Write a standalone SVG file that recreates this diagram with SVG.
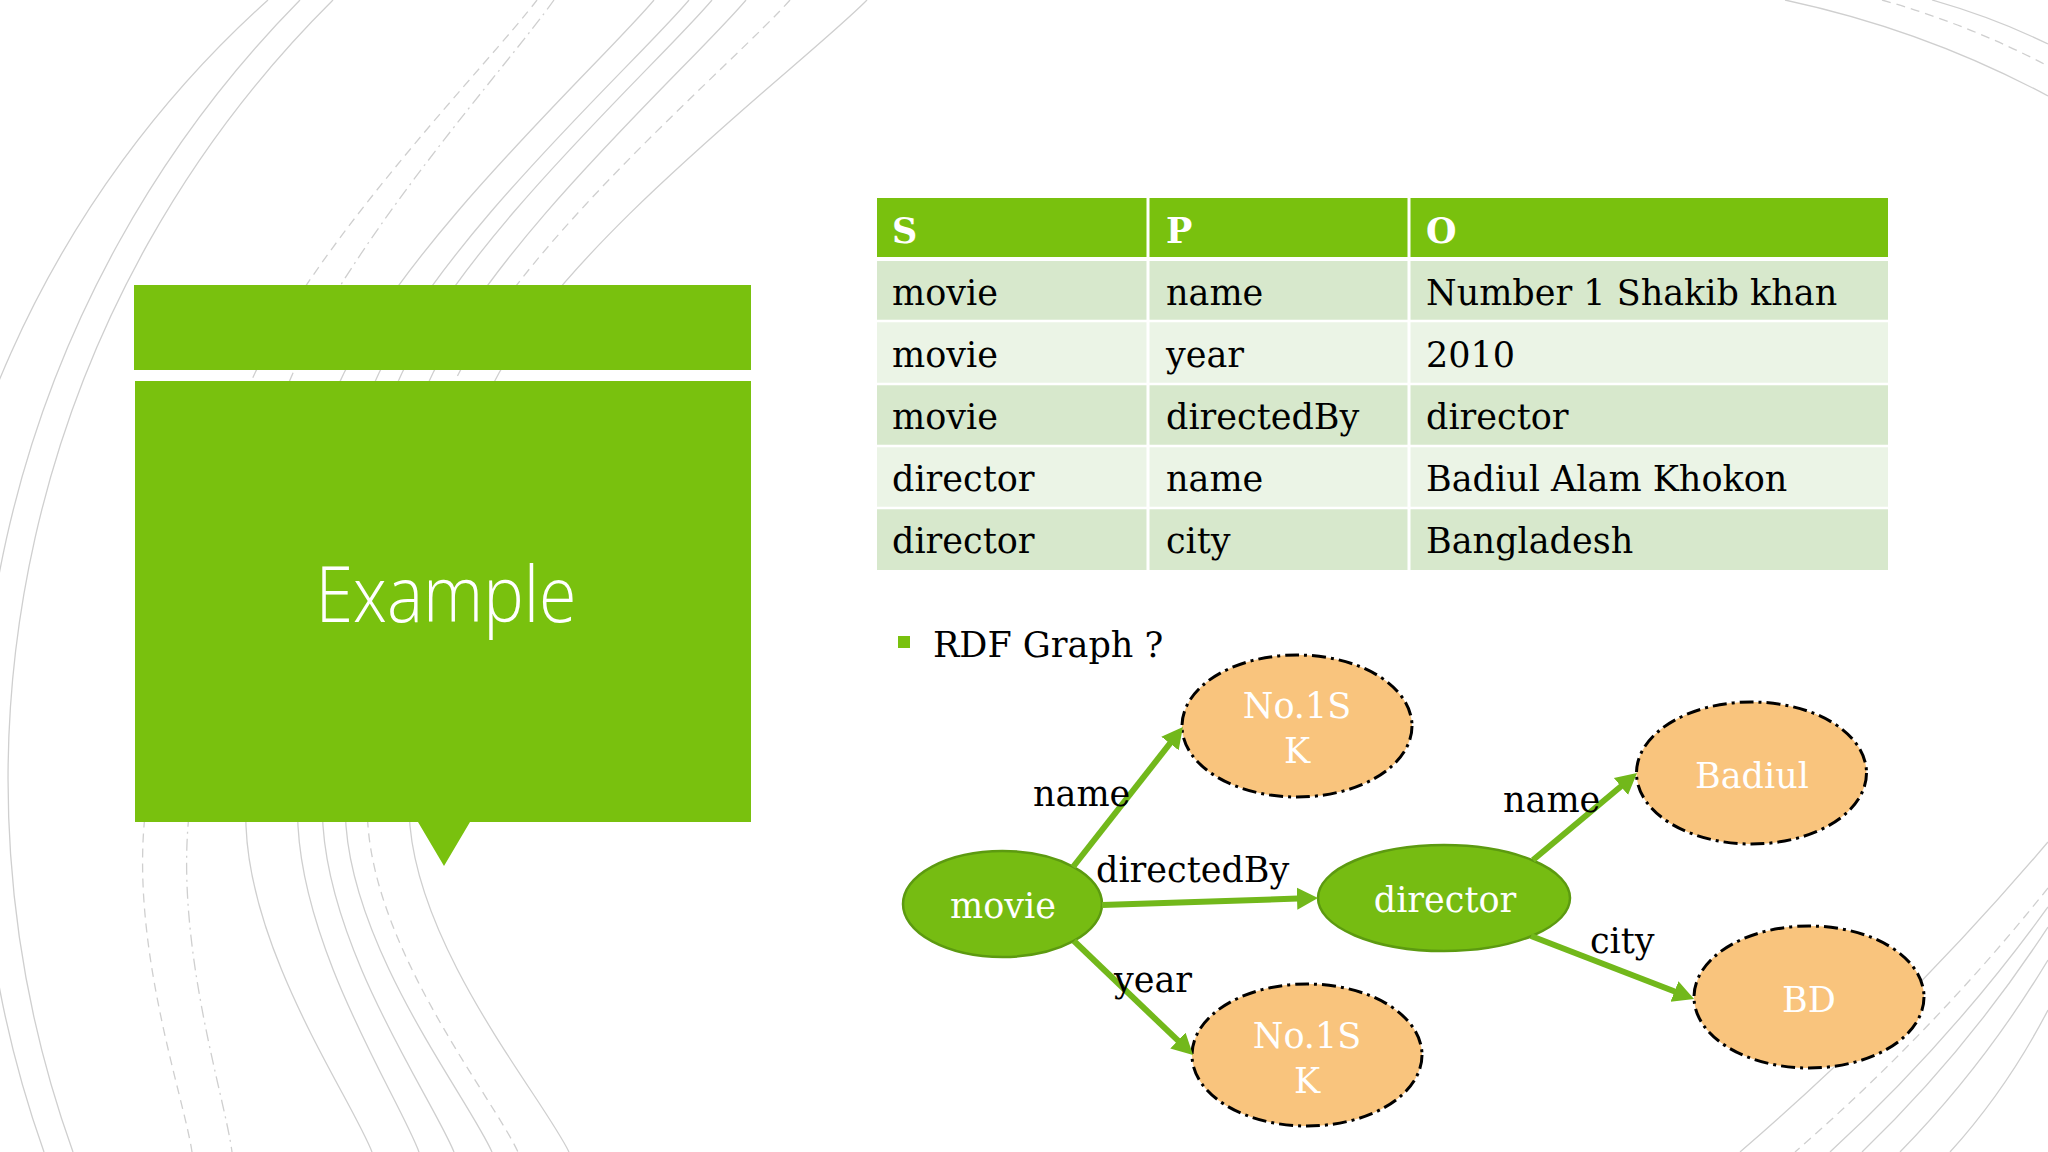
<svg xmlns="http://www.w3.org/2000/svg" width="2048" height="1152" viewBox="0 0 2048 1152">
<style>
.arc{fill:none;stroke:#CFCFCF;stroke-width:1.3}
.dash{stroke-dasharray:9 6}
.dashdot{stroke-dasharray:12 5 2 5}
.ct{font-family:"DejaVu Serif",serif;font-size:35px;fill:#000}
.ht{font-family:"DejaVu Serif",serif;font-size:35px;fill:#fff;font-weight:bold}
.edge{stroke:#72B81B;stroke-width:6;fill:none;marker-end:url(#ah)}
.lbl{font-family:"DejaVu Serif",serif;font-size:35px;fill:#000}
.gnode{fill:#76BC12;stroke:#5C9A10;stroke-width:2.5}
.onode{fill:#F9C47D;stroke:#000;stroke-width:3;stroke-dasharray:14 5 3 5}
.nt{font-family:"DejaVu Serif",serif;font-size:35px;fill:#fff;text-anchor:middle}
.sep{stroke:#fff}
</style>
<defs>
<marker id="ah" markerUnits="userSpaceOnUse" markerWidth="26" markerHeight="26" viewBox="0 0 26 26" refX="1" refY="13" orient="auto">
<path d="M0,2 L21,13 L0,24 Z" fill="#72B81B"/>
</marker>
</defs>
<rect width="2048" height="1152" fill="#fff"/>
<g id="background-arcs">
<path class="arc" d="M268,0 A1048,1048 0 0 0 -80,780"/>
<path class="arc" d="M300,0 A1110.6,1110.6 0 0 0 44,1152"/>
<path class="arc" d="M333,0 A1098.5,1098.5 0 0 0 73,1152"/>
<path class="arc dash" d="M537,0 C490,62 320.5,235 255,373 C189.5,511 154.5,696 144,826 C133.5,956 184,1098 192,1152"/>
<path class="arc dashdot" d="M554,0 C510.5,62 354,235 293,373 C232,511 198,696 188,826 C178,956 225,1098 232,1152"/>
<path class="arc" d="M654,0 C602,62 412,235 344,373 C276,511 241,696 246,826 C251,956 351,1098 372,1152"/>
<path class="arc" d="M689,0 C637,62 444,235 379,373 C314,511 291,696 298,826 C305,956 399,1098 419,1152"/>
<path class="arc" d="M712,0 C660,62 467,235 402,373 C337,511 314,696 323,826 C332,956 432,1098 454,1152"/>
<path class="arc" d="M746,0 C694,62 500,235 433,373 C366,511 336,696 346,826 C356,956 468,1098 492,1152"/>
<path class="arc dash" d="M790,0 C735,62 529,235 459,373 C389,511 358,696 368,826 C378,956 493,1098 518,1152"/>
<path class="arc" d="M867,0 C806,62 575,235 499,373 C423,511 398,696 410,826 C422,956 543,1098 569,1152"/>
<path class="arc" d="M1785,0 Q1925,30 2048,96"/>
<path class="arc dash" d="M1882,0 Q1970,25 2048,66"/>
<path class="arc" d="M1932,0 Q1995,18 2048,44"/>
<path class="arc" d="M2048,842 Q1906,1009 1740,1152"/>
<path class="arc dash" d="M2048,888 Q1933,1032 1795,1152"/>
<path class="arc" d="M2048,907 Q1951,1041 1830,1152"/>
<path class="arc" d="M2048,927 Q1967,1051 1862,1152"/>
<path class="arc" d="M2048,960 Q1984,1066 1900,1152"/>
<path class="arc" d="M2048,1010 Q2007,1089 1950,1152"/>
</g>
<g id="title-panel">
<rect x="134" y="285" width="617" height="85" fill="#79C10E"/>
<path d="M135,381 H751 V822 H470 L444,866 L418,822 H135 Z" fill="#79C10E"/>
<text x="446" y="622" text-anchor="middle" font-family="'Open Sans','Noto Sans',sans-serif" font-weight="300" font-size="78" fill="#fff" textLength="261" lengthAdjust="spacingAndGlyphs">Example</text>
</g>
<g id="table">
<rect x="877" y="198" width="1011" height="61" fill="#79C10E"/>
<rect x="877" y="260" width="1011" height="62" fill="#D7E8CC"/>
<rect x="877" y="322" width="1011" height="62" fill="#EBF4E6"/>
<rect x="877" y="384" width="1011" height="62" fill="#D7E8CC"/>
<rect x="877" y="446" width="1011" height="62" fill="#EBF4E6"/>
<rect x="877" y="508" width="1011" height="62" fill="#D7E8CC"/>
<line class="sep" x1="877" y1="259" x2="1888" y2="259" stroke-width="4"/>
<line class="sep" x1="877" y1="321" x2="1888" y2="321" stroke-width="2.5"/>
<line class="sep" x1="877" y1="384" x2="1888" y2="384" stroke-width="2.5"/>
<line class="sep" x1="877" y1="446" x2="1888" y2="446" stroke-width="2.5"/>
<line class="sep" x1="877" y1="508" x2="1888" y2="508" stroke-width="2.5"/>
<line class="sep" x1="1148" y1="198" x2="1148" y2="570" stroke-width="3"/>
<line class="sep" x1="1409" y1="198" x2="1409" y2="570" stroke-width="3"/>
<text class="ht" x="892" y="243">S</text>
<text class="ht" x="1166" y="243">P</text>
<text class="ht" x="1426" y="243">O</text>
<text class="ct" x="892" y="305">movie</text>
<text class="ct" x="1166" y="305">name</text>
<text class="ct" x="1426" y="305">Number 1 Shakib khan</text>
<text class="ct" x="892" y="367">movie</text>
<text class="ct" x="1166" y="367">year</text>
<text class="ct" x="1426" y="367">2010</text>
<text class="ct" x="892" y="429">movie</text>
<text class="ct" x="1166" y="429">directedBy</text>
<text class="ct" x="1426" y="429">director</text>
<text class="ct" x="892" y="491">director</text>
<text class="ct" x="1166" y="491">name</text>
<text class="ct" x="1426" y="491">Badiul Alam Khokon</text>
<text class="ct" x="892" y="553">director</text>
<text class="ct" x="1166" y="553">city</text>
<text class="ct" x="1426" y="553">Bangladesh</text>
</g>
<g id="bullet">
<rect x="898" y="636" width="12" height="12" fill="#79C10E"/>
<text class="lbl" x="933" y="657">RDF Graph ?</text>
</g>
<g id="node-movie">
<ellipse class="gnode" cx="1002.5" cy="904" rx="99.5" ry="53"/>
<text class="nt" x="1003" y="918">movie</text>
</g>
<g id="node-director">
<ellipse class="gnode" cx="1444" cy="898" rx="126" ry="53"/>
<text class="nt" x="1445" y="912">director</text>
</g>
<g id="node-name1">
<ellipse class="onode" cx="1297" cy="726" rx="115" ry="71"/>
<text class="nt" x="1297" y="718">No.1S</text>
<text class="nt" x="1297" y="763">K</text>
</g>
<g id="node-year">
<ellipse class="onode" cx="1307" cy="1055" rx="115" ry="71"/>
<text class="nt" x="1307" y="1048">No.1S</text>
<text class="nt" x="1307" y="1093">K</text>
</g>
<g id="node-badiul">
<ellipse class="onode" cx="1751.5" cy="773" rx="115" ry="71"/>
<text class="nt" x="1752" y="788">Badiul</text>
</g>
<g id="node-bd">
<ellipse class="onode" cx="1809" cy="997" rx="115" ry="71"/>
<text class="nt" x="1809" y="1012">BD</text>
</g>
<g id="connectors">
<line class="edge" x1="1073" y1="867" x2="1170.6" y2="742.7"/>
<line class="edge" x1="1102" y1="905" x2="1298" y2="898.6"/>
<line class="edge" x1="1074" y1="941" x2="1178.6" y2="1041.2"/>
<line class="edge" x1="1533" y1="860" x2="1621.7" y2="785.8"/>
<line class="edge" x1="1531" y1="936" x2="1675.4" y2="991.8"/>
<text class="lbl" x="1033" y="806">name</text>
<text class="lbl" x="1096" y="882">directedBy</text>
<text class="lbl" x="1114" y="992">year</text>
<text class="lbl" x="1503" y="812">name</text>
<text class="lbl" x="1590" y="953">city</text>
</g>
</svg>
